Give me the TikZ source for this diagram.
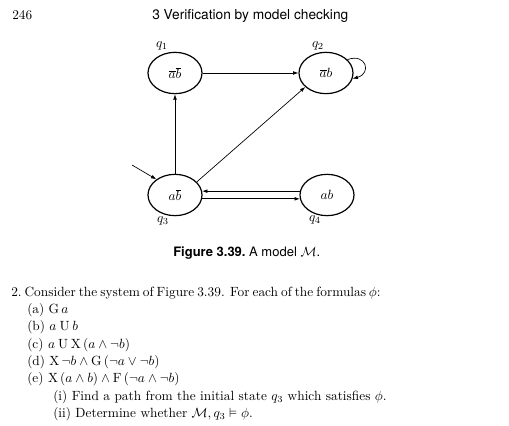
\documentclass[tikz,border=0pt]{standalone}
\usepackage{amsmath,amssymb}
\usepackage{fontspec}
\newfontfamily\headsans{TeX Gyre Heros}
\usepackage{tikz}
\usetikzlibrary{arrows.meta,shapes.geometric}
\tikzset{
  state/.style={ellipse,draw=black,line width=.9pt,minimum width=40.5pt,minimum height=31pt,inner sep=0pt},
  trans/.style={-{Latex[length=4pt,width=2.8pt]},line width=.5pt},
  slabel/.style={inner sep=0pt},
  textline/.style={anchor=base west,inner sep=0pt},
}

\begin{document}
\begin{tikzpicture}[x=.75pt,y=.75pt]
  \path[use as bounding box] (0,0) rectangle (509,425);
  % running head
  \node[textline] (pageno) at (12,405) {246};
  \node[textline,font=\headsans\fontsize{10.3}{12}\selectfont] (head) at (152,405) {3 Verification by model checking};
  % the model
  \node[state] (q1) at (175,352) {$\overline{a}\overline{b}$};
  \node[state] (q2) at (326,352) {$\overline{a}b$};
  \node[state] (q3) at (175,230) {$a\overline{b}$};
  \node[state] (q4) at (327,230) {$ab$};
  \node[slabel] (q1lab) at (162,379) {$q_1$};
  \node[slabel] (q2lab) at (318,379) {$q_2$};
  \node[slabel] (q3lab) at (163,204) {$q_3$};
  \node[slabel] (q4lab) at (315,205) {$q_4$};
  \coordinate (init) at (132,260);
  \draw[trans] (init) -- (q3.140);
  \draw[trans] (q1) -- (q2);
  \draw[trans] (q3) -- (q1);
  \draw[trans] (q3.31) -- (q2.214);
  \draw[trans] (q2.32) to[out=20,in=15,looseness=2.6] (q2.-12);
  \draw[trans] (q3.-8) -- (q4.188);
  \draw[trans] (q4.172) -- (q3.8);
  \node[textline,font=\headsans\fontsize{9.75}{12}\selectfont] (caption) at (173,169) {\bfseries Figure 3.39.\ \mdseries A model $\mathcal{M}$.};
  % exercise
  \node[textline] (ex) at (11,129) {\makebox[275pt][s]{2.\ Consider the system of Figure 3.39. For each of the formulas $\phi$:}};
  \node[textline] (exa) at (27,111.6) {(a) $\mathrm{G}\,a$};
  \node[textline] (exb) at (27,94.2) {(b) $a\mathbin{\mathrm{U}}b$};
  \node[textline] (exc) at (27,76.9) {(c) $a\mathbin{\mathrm{U}}\mathrm{X}\,(a\land\neg b)$};
  \node[textline] (exd) at (27,59.5) {(d) $\mathrm{X}\,\neg b\land\mathrm{G}\,(\neg a\lor\neg b)$};
  \node[textline] (exe) at (27,42.1) {(e) $\mathrm{X}\,(a\land b)\land\mathrm{F}\,(\neg a\land\neg b)$};
  \node[textline] (exi) at (53,24.7) {(i) Find a path from the initial state $q_3$ which satisfies $\phi$.};
  \node[textline] (exii) at (53,7.3) {(ii) Determine whether $\mathcal{M},q_3\vDash\phi$.};
\end{tikzpicture}
\end{document}
